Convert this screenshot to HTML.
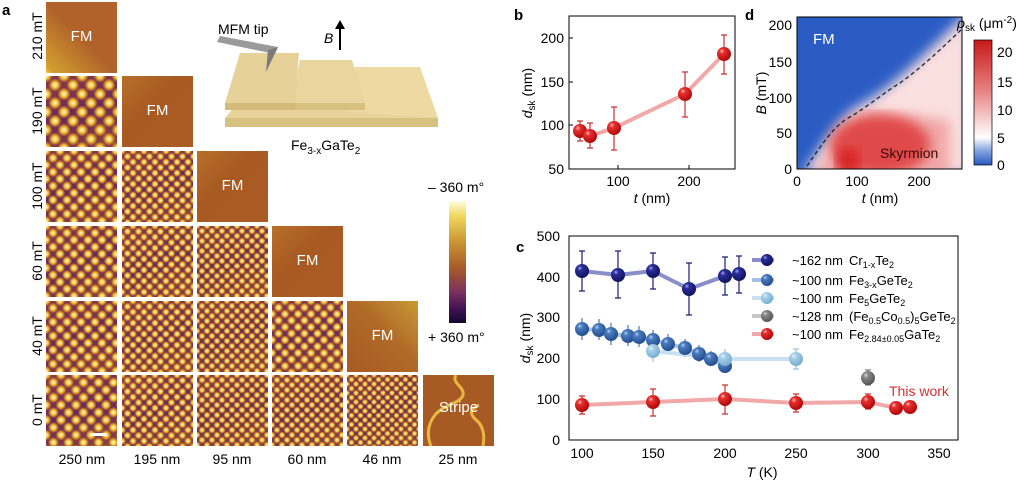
<!DOCTYPE html>
<html><head><meta charset="utf-8"><style>
body{margin:0;background:#fff;width:1024px;height:482px;overflow:hidden;position:relative;font-family:"Liberation Sans",sans-serif}
.t{position:absolute;width:71px;height:71px;overflow:hidden}
.fm{background:linear-gradient(135deg,#b8702a,#a85a22 40%,#aa5c24);}
.sk{background:
radial-gradient(circle,#fffbd8 0,#f8d050 20%,#d08828 34%,rgba(120,40,70,0) 52%) 0 0/var(--s) var(--s),
radial-gradient(circle,#fffbd8 0,#f8d050 20%,#d08828 34%,rgba(120,40,70,0) 52%) calc(var(--s)/2) calc(var(--s)/2)/var(--s) var(--s),
linear-gradient(160deg,#8a3a48,#6a2a58 50%,#8a4040);}
.fmlab{position:absolute;color:#fff;font-size:15px;width:100%;text-align:center;top:26px}
.rl{position:absolute;font-size:14px;transform:rotate(-90deg);transform-origin:center;width:80px;text-align:center}
.bl{position:absolute;top:451px;font-size:14px;width:80px;text-align:center}
</style></head><body>
<div style="position:absolute;left:2px;top:2px;font-weight:bold;font-size:15px">a</div>
<div class="rl" style="left:-3px;top:28px">210 mT</div>
<div class="rl" style="left:-3px;top:103px">190 mT</div>
<div class="rl" style="left:-3px;top:178px">100 mT</div>
<div class="rl" style="left:-3px;top:253px">60 mT</div>
<div class="rl" style="left:-3px;top:328px">40 mT</div>
<div class="rl" style="left:-3px;top:402px">0 mT</div>
<div class="t fm" style="left:46px;top:2px;background:linear-gradient(225deg,#b0622a 50%,#d4a030 95%,#f0d040)"><div class="fmlab">FM</div></div>
<div class="t sk" style="left:46px;top:76px;--s:18px"></div>
<div class="t fm" style="left:122px;top:76px"><div class="fmlab">FM</div></div>
<div class="t sk" style="left:46px;top:151px;--s:14px"></div>
<div class="t sk" style="left:122px;top:151px;--s:11px"></div>
<div class="t fm" style="left:197px;top:151px"><div class="fmlab">FM</div></div>
<div class="t sk" style="left:46px;top:226px;--s:14px"></div>
<div class="t sk" style="left:122px;top:226px;--s:11px"></div>
<div class="t sk" style="left:197px;top:226px;--s:10px"></div>
<div class="t fm" style="left:272px;top:226px"><div class="fmlab">FM</div></div>
<div class="t sk" style="left:46px;top:301px;--s:14px"></div>
<div class="t sk" style="left:122px;top:301px;--s:11px"></div>
<div class="t sk" style="left:197px;top:301px;--s:10px"></div>
<div class="t sk" style="left:272px;top:301px;--s:13px"></div>
<div class="t fm" style="left:347px;top:301px;background:linear-gradient(225deg,#c89a35,#b06a28 45%,#a85a22)"><div class="fmlab">FM</div></div>
<div class="t sk" style="left:46px;top:375px;--s:15px"><div style="position:absolute;left:46px;top:58px;width:14px;height:3px;background:#fff"></div></div>
<div class="t sk" style="left:122px;top:375px;--s:11px"></div>
<div class="t sk" style="left:197px;top:375px;--s:10px"></div>
<div class="t sk" style="left:272px;top:375px;--s:10px"></div>
<div class="t sk" style="left:347px;top:375px;--s:9px"></div>
<div class="t" style="left:423px;top:375px;background:#a85a24">
<svg width="71" height="71"><path d="M33,0 C28,8 42,12 40,20 C38,28 20,30 12,40 C4,50 4,62 8,71 M60,71 C62,60 60,50 52,44 C46,38 48,34 56,30" stroke="#e8b840" stroke-width="3" fill="none"/></svg>
<div class="fmlab" style="top:24px">Stripe</div></div>
<div class="bl" style="left:42px">250 nm</div>
<div class="bl" style="left:117px">195 nm</div>
<div class="bl" style="left:192px">95 nm</div>
<div class="bl" style="left:267px">60 nm</div>
<div class="bl" style="left:342px">46 nm</div>
<div class="bl" style="left:418px">25 nm</div>
<div style="position:absolute;left:449px;top:201px;width:17px;height:122px;background:linear-gradient(#fffde0,#f0d860 12%,#c89030 35%,#a85a28 55%,#7a3060 75%,#3a1050 90%,#150830)"></div>
<div style="position:absolute;left:428px;top:179px;font-size:14px">– 360 m°</div>
<div style="position:absolute;left:428px;top:329px;font-size:14px">+ 360 m°</div>
<svg style="position:absolute;left:0;top:0" width="512" height="160">
<polygon points="225,118 240,100 420,100 438,118" fill="#e8d49a"/>
<polygon points="225,118 438,118 438,127 225,127" fill="#d8c080"/>
<polygon points="350,112 355,67 420,67 438,118" fill="#edd9a2"/>
<polygon points="290,110 300,60 352,60 365,103 365,110" fill="#ead59e"/>
<polygon points="295,110 365,110 365,103 295,103" fill="#d8c080"/>
<polygon points="225,103 240,53 299,53 295,103" fill="#e6d198"/>
<polygon points="225,103 295,103 295,110 225,110" fill="#d4bb7a"/>
<polygon points="217,42 220,36 278,47 275,54" fill="#9a9a9a"/>
<polygon points="268,50 278,47 266,72" fill="#7a7a7a"/>
<line x1="340" y1="50" x2="340" y2="27" stroke="#000" stroke-width="2"/>
<polygon points="335,29 340,20 345,29" fill="#000"/>
<text x="218" y="34" font-size="14">MFM tip</text>
<text x="324" y="43" font-size="14" font-style="italic">B</text>
<text x="291" y="150" font-size="14">Fe<tspan font-size="10" dy="4">3-x</tspan><tspan dy="-4">GaTe</tspan><tspan font-size="10" dy="4">2</tspan></text>
</svg>
<svg style="position:absolute;left:0;top:0" width="1024" height="482" font-family="Liberation Sans" font-size="14">
<defs>
<radialGradient id="gr" cx="0.35" cy="0.3" r="0.7"><stop offset="0" stop-color="#ffc0c0"/><stop offset="0.25" stop-color="#e83030"/><stop offset="1" stop-color="#b00808"/></radialGradient>
<radialGradient id="gn" cx="0.35" cy="0.3" r="0.7"><stop offset="0" stop-color="#a0a8f0"/><stop offset="0.25" stop-color="#2a2e98"/><stop offset="1" stop-color="#10145e"/></radialGradient>
<radialGradient id="gb" cx="0.35" cy="0.3" r="0.7"><stop offset="0" stop-color="#b8d0f0"/><stop offset="0.25" stop-color="#4a7cc0"/><stop offset="1" stop-color="#244e8e"/></radialGradient>
<radialGradient id="gl" cx="0.35" cy="0.3" r="0.7"><stop offset="0" stop-color="#eef6ff"/><stop offset="0.25" stop-color="#a8d0e8"/><stop offset="1" stop-color="#78aed0"/></radialGradient>
<radialGradient id="gg" cx="0.35" cy="0.3" r="0.7"><stop offset="0" stop-color="#ddd"/><stop offset="0.25" stop-color="#8a8a8a"/><stop offset="1" stop-color="#555"/></radialGradient>
<linearGradient id="cbd" x1="0" y1="0" x2="0" y2="1"><stop offset="0" stop-color="#c81818"/><stop offset="0.4" stop-color="#e88080"/><stop offset="0.78" stop-color="#fff"/><stop offset="0.88" stop-color="#8aa8e0"/><stop offset="1" stop-color="#2858c0"/></linearGradient>
<filter id="bl"><feGaussianBlur stdDeviation="6"/></filter>
<clipPath id="cd"><rect x="797" y="17" width="165" height="152"/></clipPath>
</defs>
<text x="514" y="20" font-weight="bold" font-size="15">b</text>
<rect x="569" y="16" width="166" height="153" fill="none" stroke="#000"/>
<g font-size="14" text-anchor="end">
<text x="564" y="43">200</text><text x="564" y="87">150</text><text x="564" y="130">100</text><text x="564" y="174">50</text></g>
<g stroke="#000"><line x1="569" y1="38" x2="573" y2="38"/><line x1="569" y1="82" x2="573" y2="82"/><line x1="569" y1="125" x2="573" y2="125"/><line x1="618" y1="169" x2="618" y2="165"/><line x1="689" y1="169" x2="689" y2="165"/></g>
<text x="618" y="186" text-anchor="middle">100</text><text x="689" y="186" text-anchor="middle">200</text>
<text x="652" y="203" text-anchor="middle"><tspan font-style="italic">t</tspan> (nm)</text>
<text transform="translate(532,93) rotate(-90)" text-anchor="middle"><tspan font-style="italic">d</tspan><tspan font-size="10" dy="3">sk</tspan><tspan dy="-3"> (nm)</tspan></text>
<polyline points="580,131 590,136 614,128 685,94 724,54" fill="none" stroke="#f0a8a8" stroke-width="4"/>
<g stroke="#c83030" stroke-width="1.2">
<line x1="580" y1="121" x2="580" y2="141"/><line x1="590" y1="123" x2="590" y2="148"/><line x1="614" y1="107" x2="614" y2="150"/><line x1="685" y1="72" x2="685" y2="117"/><line x1="724" y1="35" x2="724" y2="74"/>
<path d="M577,121h6M577,141h6M587,123h6M587,148h6M611,107h6M611,150h6M682,72h6M682,117h6M721,35h6M721,74h6"/></g>
<g fill="url(#gr)"><circle cx="580" cy="131" r="7"/><circle cx="590" cy="136" r="7"/><circle cx="614" cy="128" r="7"/><circle cx="685" cy="94" r="7"/><circle cx="724" cy="54" r="7"/></g>
<text x="745" y="20" font-weight="bold" font-size="15">d</text>
<g clip-path="url(#cd)">
<rect x="797" y="17" width="165" height="152" fill="#2a5cc4"/>
<path d="M802,175 C820,150 835,120 860,105 C890,90 930,50 970,10 L970,175Z" fill="#fbe0e0" filter="url(#bl)"/>
<path d="M815,175 C830,150 840,125 870,110 L950,120 L950,175Z" fill="#ef9a9a" filter="url(#bl)" opacity="0.8"/>
<ellipse cx="880" cy="145" rx="50" ry="30" fill="#e04848" filter="url(#bl)"/>
<ellipse cx="848" cy="162" rx="12" ry="14" fill="#d82020" filter="url(#bl)"/>
</g>
<path d="M807,166 C825,140 835,125 850,117 C870,105 885,92 900,83 C925,65 945,45 962,29" fill="none" stroke="#222" stroke-width="1.3" stroke-dasharray="4,3"/>
<rect x="797" y="17" width="165" height="152" fill="none" stroke="#000"/>
<text x="813" y="44" fill="#fff" font-size="15">FM</text>
<text x="880" y="158" fill="#3a0808" font-size="14">Skyrmion</text>
<g text-anchor="end"><text x="792" y="30">200</text><text x="792" y="67">150</text><text x="792" y="103">100</text><text x="792" y="138">50</text><text x="792" y="174">0</text></g>
<g text-anchor="middle"><text x="797" y="186">0</text><text x="857" y="186">100</text><text x="919" y="186">200</text></g>
<text x="880" y="203" text-anchor="middle"><tspan font-style="italic">t</tspan> (nm)</text>
<text transform="translate(766,93) rotate(-90)" text-anchor="middle"><tspan font-style="italic">B</tspan> (mT)</text>
<text x="957" y="28"><tspan font-style="italic">ρ</tspan><tspan font-size="10" dy="3">sk</tspan><tspan dy="-3"> (μm</tspan><tspan font-size="10" dy="-5">-2</tspan><tspan dy="5">)</tspan></text>
<rect x="974" y="40" width="18" height="125" fill="url(#cbd)" stroke="#000" stroke-width="0.7"/>
<g><text x="997" y="57">20</text><text x="997" y="87">15</text><text x="997" y="115">10</text><text x="997" y="143">5</text><text x="997" y="170">0</text></g>
<text x="516" y="252" font-weight="bold" font-size="15">c</text>
<rect x="569" y="236" width="389" height="204" fill="none" stroke="#000"/>
<g text-anchor="end"><text x="560" y="241">500</text><text x="560" y="282">400</text><text x="560" y="322">300</text><text x="560" y="363">200</text><text x="560" y="404">100</text><text x="560" y="445">0</text></g>
<g text-anchor="middle"><text x="582" y="458">100</text><text x="653" y="458">150</text><text x="725" y="458">200</text><text x="796" y="458">250</text><text x="868" y="458">300</text><text x="939" y="458">350</text></g>
<text x="762" y="477" text-anchor="middle"><tspan font-style="italic">T</tspan> (K)</text>
<text transform="translate(530,338) rotate(-90)" text-anchor="middle"><tspan font-style="italic">d</tspan><tspan font-size="10" dy="3">sk</tspan><tspan dy="-3"> (nm)</tspan></text>
<polyline points="582,271 618,275 653,271 689,289 725,276 739,274" fill="none" stroke="#8a8ec8" stroke-width="4"/>
<g stroke="#1a1e78" stroke-width="1.2">
<path d="M582,251v40M579,251h6M579,291h6M618,251v47M615,251h6M615,298h6M653,253v36M650,253h6M650,289h6M689,263v52M686,263h6M686,315h6M725,257v38M722,257h6M722,295h6M739,256v37M736,256h6M736,293h6"/></g>
<g fill="url(#gn)"><circle cx="582" cy="271" r="7"/><circle cx="618" cy="275" r="7"/><circle cx="653" cy="271" r="7"/><circle cx="689" cy="289" r="7"/><circle cx="725" cy="276" r="7"/><circle cx="739" cy="274" r="7"/></g>
<polyline points="582,329 599,330 611,334 628,336 639,337 653,340 668,344 685,348 699,354 711,359 725,366" fill="none" stroke="#a8c0e0" stroke-width="4"/>
<g stroke="#3868a8" stroke-width="1.1">
<path d="M582,318v22M599,319v21M611,323v22M628,325v21M639,326v21M653,330v20M668,334v19M685,339v18M699,345v17M711,351v15M725,358v15"/></g>
<polyline points="653,351 725,359 796,359" fill="none" stroke="#c8e0f0" stroke-width="4"/>
<g stroke="#8ab8d8" stroke-width="1.1"><path d="M653,341v21M725,349v20M796,349v20M793,349h6M793,369h6"/></g>
<g fill="url(#gb)"><circle cx="582" cy="329" r="7"/><circle cx="599" cy="330" r="7"/><circle cx="611" cy="334" r="7"/><circle cx="628" cy="336" r="7"/><circle cx="639" cy="337" r="7"/><circle cx="653" cy="340" r="7"/><circle cx="668" cy="344" r="7"/><circle cx="685" cy="348" r="7"/><circle cx="699" cy="354" r="7"/><circle cx="711" cy="359" r="7"/><circle cx="725" cy="366" r="7"/></g>
<g fill="url(#gl)"><circle cx="653" cy="351" r="7"/><circle cx="725" cy="359" r="7"/><circle cx="796" cy="359" r="7"/></g>
<path d="M868,370v15M865,370h6M865,385h6" stroke="#666"/>
<circle cx="868" cy="378" r="7" fill="url(#gg)"/>
<polyline points="582,405 653,402 725,399 796,403 868,402 896,408 910,407" fill="none" stroke="#f0a8a8" stroke-width="4"/>
<g stroke="#c83030" stroke-width="1.2"><path d="M582,396v18M579,396h6M579,414h6M653,389v27M650,389h6M650,416h6M725,385v29M722,385h6M722,414h6M796,394v18M793,394h6M793,412h6M868,394v15M865,394h6M865,409h6"/></g>
<g fill="url(#gr)"><circle cx="582" cy="405" r="7"/><circle cx="653" cy="402" r="7"/><circle cx="725" cy="399" r="7"/><circle cx="796" cy="403" r="7"/><circle cx="868" cy="402" r="7"/><circle cx="896" cy="408" r="7"/><circle cx="910" cy="407" r="7"/></g>
<text x="889" y="396" fill="#d83030" font-size="14">This work</text>
<g font-size="13">
<line x1="752" y1="260" x2="774" y2="260" stroke="#8a8ec8" stroke-width="4"/><circle cx="767" cy="260" r="6" fill="url(#gn)"/>
<text x="792" y="265">~162 nm</text><text x="849" y="265">Cr<tspan font-size="9" dy="3">1-x</tspan><tspan dy="-3">Te</tspan><tspan font-size="9" dy="3">2</tspan></text>
<line x1="752" y1="280" x2="774" y2="280" stroke="#a8c0e0" stroke-width="4"/><circle cx="767" cy="280" r="6" fill="url(#gb)"/>
<text x="792" y="285">~100 nm</text><text x="849" y="285">Fe<tspan font-size="9" dy="3">3-x</tspan><tspan dy="-3">GeTe</tspan><tspan font-size="9" dy="3">2</tspan></text>
<line x1="752" y1="298" x2="774" y2="298" stroke="#c8e0f0" stroke-width="4"/><circle cx="767" cy="298" r="6" fill="url(#gl)"/>
<text x="792" y="303">~100 nm</text><text x="849" y="303">Fe<tspan font-size="9" dy="3">5</tspan><tspan dy="-3">GeTe</tspan><tspan font-size="9" dy="3">2</tspan></text>
<line x1="752" y1="316" x2="774" y2="316" stroke="#c8c8c8" stroke-width="4"/><circle cx="767" cy="316" r="6" fill="url(#gg)"/>
<text x="792" y="321">~128 nm</text><text x="849" y="321">(Fe<tspan font-size="9" dy="3">0.5</tspan><tspan dy="-3">Co</tspan><tspan font-size="9" dy="3">0.5</tspan><tspan dy="-3">)</tspan><tspan font-size="9" dy="3">5</tspan><tspan dy="-3">GeTe</tspan><tspan font-size="9" dy="3">2</tspan></text>
<line x1="752" y1="334" x2="774" y2="334" stroke="#f0a8a8" stroke-width="4"/><circle cx="767" cy="334" r="6" fill="url(#gr)"/>
<text x="792" y="339">~100 nm</text><text x="849" y="339">Fe<tspan font-size="9" dy="3">2.84±0.05</tspan><tspan dy="-3">GaTe</tspan><tspan font-size="9" dy="3">2</tspan></text>
</g>
</svg>
</body></html>
